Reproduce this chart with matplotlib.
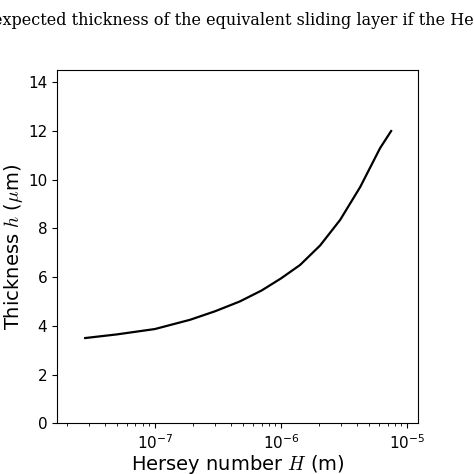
import matplotlib
matplotlib.use("Agg")
import matplotlib.pyplot as plt

H = [2.8e-8, 5e-8, 1e-7, 1.9e-7, 3e-7, 4.7e-7, 7e-7, 1e-6, 1.415e-6, 2.04e-6, 2.94e-6, 4.24e-6, 6.1e-6, 7.46e-6]
h = [3.5, 3.65, 3.87, 4.25, 4.6, 5.0, 5.45, 5.95, 6.5, 7.3, 8.35, 9.7, 11.3, 12.0]

plt.rcParams['mathtext.fontset'] = 'cm'
fig = plt.figure(figsize=(4.74, 4.74), dpi=100)
ax = fig.add_axes([0.12, 0.107, 0.762, 0.745])
ax.plot(H, h, color='black', lw=1.6)
ax.set_xscale('log')
ax.set_xlim(1.67e-8, 1.22e-5)
ax.set_ylim(0, 14.5)
ax.set_yticks(range(0, 15, 2))
ax.tick_params(labelsize=11)
ax.set_xlabel(r'Hersey number $H$ (m)', fontsize=14, labelpad=1)
ax.set_ylabel(r'Thickness $h$ ($\mu$m)', fontsize=14, labelpad=2)
fig.text(0.5, 0.975, 'expected thickness of the equivalent sliding layer if the Her',
         ha='center', va='top', fontsize=11.5, family='serif')
fig.savefig('out.png', dpi=100)
